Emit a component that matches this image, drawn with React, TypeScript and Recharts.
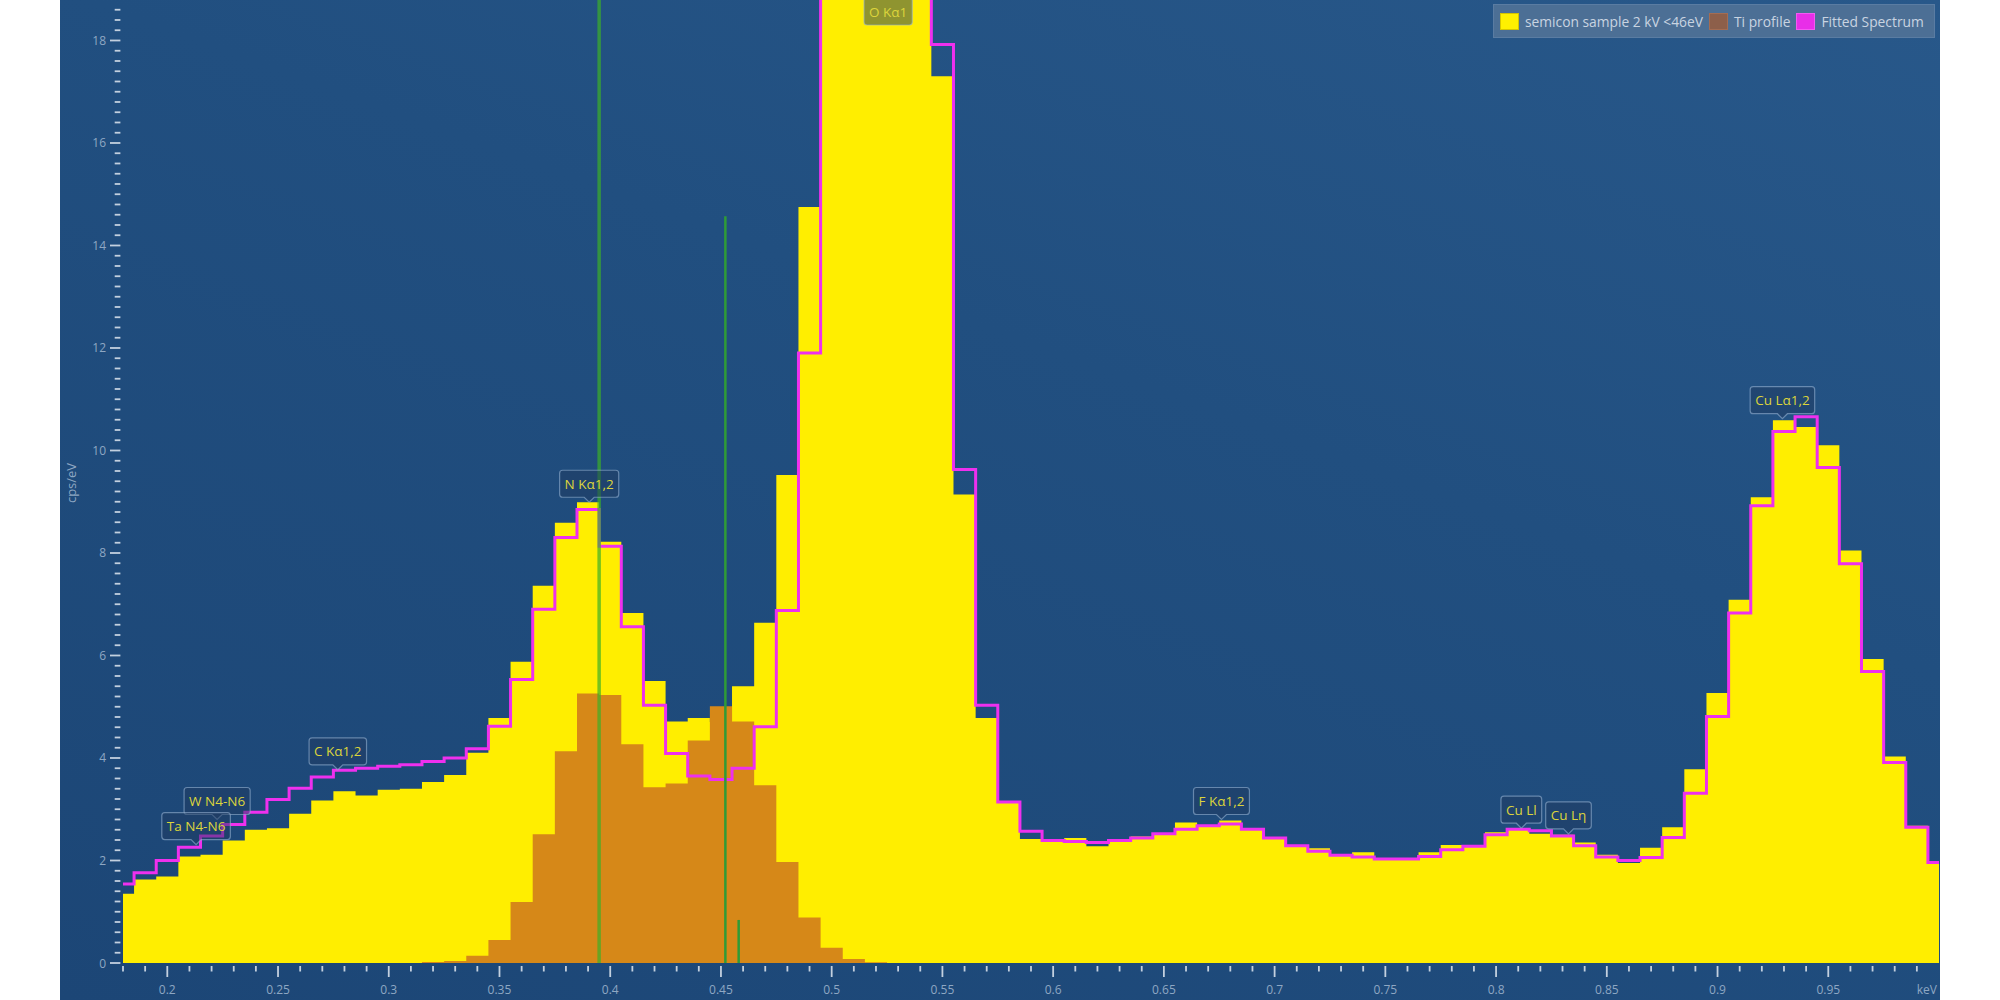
import {
  ComposedChart,
  Area,
  Line,
  XAxis,
  YAxis,
  ReferenceLine,
  ReferenceDot,
} from 'recharts';

// bin centres (keV), 10 eV bins
const energy = [
  0.18, 0.19,
  0.2, 0.21, 0.22, 0.23, 0.24, 0.25, 0.26, 0.27, 0.28, 0.29,
  0.3, 0.31, 0.32, 0.33, 0.34, 0.35, 0.36, 0.37, 0.38, 0.39,
  0.4, 0.41, 0.42, 0.43, 0.44, 0.45, 0.46, 0.47, 0.48, 0.49,
  0.5, 0.51, 0.52, 0.53, 0.54, 0.55, 0.56, 0.57, 0.58, 0.59,
  0.6, 0.61, 0.62, 0.63, 0.64, 0.65, 0.66, 0.67, 0.68, 0.69,
  0.7, 0.71, 0.72, 0.73, 0.74, 0.75, 0.76, 0.77, 0.78, 0.79,
  0.8, 0.81, 0.82, 0.83, 0.84, 0.85, 0.86, 0.87, 0.88, 0.89,
  0.9, 0.91, 0.92, 0.93, 0.94, 0.95, 0.96, 0.97, 0.98, 0.99,
  1.0,
];

// semicon sample 2 kV <46eV (cps/eV)
const sampleCps = [
  1.35, 1.63,
  1.69, 2.08, 2.11, 2.39, 2.6, 2.63, 2.91, 3.17, 3.35, 3.27,
  3.38, 3.4, 3.53, 3.67, 4.1, 4.78, 5.88, 7.36, 8.59, 8.99,
  8.22, 6.83, 5.5, 4.71, 4.78, 4.7, 5.4, 6.64, 9.52, 14.75,
  21.6, 27.9, 30.8, 29.5, 24.1, 17.3, 9.14, 4.78, 3.12, 2.42,
  2.4, 2.44, 2.28, 2.38, 2.47, 2.52, 2.74, 2.66, 2.78, 2.6,
  2.43, 2.3, 2.24, 2.09, 2.16, 2.02, 2.01, 2.16, 2.3, 2.28,
  2.55, 2.63, 2.52, 2.5, 2.35, 2.11, 1.95, 2.25, 2.65, 3.78,
  5.27, 7.09, 9.09, 10.59, 10.46, 10.1, 8.05, 5.93, 4.03, 2.68,
  1.98,
];

// Ti profile
const tiProfile = [
  0, 0,
  0, 0, 0, 0, 0, 0, 0, 0, 0, 0,
  0, 0, 0.02, 0.04, 0.14, 0.45, 1.19, 2.51, 4.13, 5.26,
  5.23, 4.27, 3.43, 3.5, 4.34, 5.01, 4.71, 3.47, 1.97, 0.89,
  0.3, 0.08, 0.015, 0, 0, 0, 0, 0, 0, 0,
  0, 0, 0, 0, 0, 0, 0, 0, 0, 0,
  0, 0, 0, 0, 0, 0, 0, 0, 0, 0,
  0, 0, 0, 0, 0, 0, 0, 0, 0, 0,
  0, 0, 0, 0, 0, 0, 0, 0, 0, 0,
  0,
];

// Fitted Spectrum
const fittedSpectrum = [
  1.54, 1.76,
  2.0, 2.26, 2.48, 2.7, 2.94, 3.19, 3.41, 3.63, 3.76, 3.8,
  3.84, 3.87, 3.93, 4.0, 4.18, 4.62, 5.53, 6.9, 8.3, 8.85,
  8.13, 6.56, 5.03, 4.09, 3.65, 3.58, 3.8, 4.61, 6.88, 11.9,
  21.0, 27.3, 31.1, 29.0, 23.6, 17.92, 9.63, 5.03, 3.14, 2.57,
  2.39, 2.37, 2.35, 2.39, 2.44, 2.52, 2.61, 2.68, 2.71, 2.61,
  2.44, 2.29, 2.18, 2.1, 2.07, 2.03, 2.03, 2.08, 2.21, 2.28,
  2.5, 2.61, 2.58, 2.48, 2.29, 2.07, 2.0, 2.06, 2.45, 3.31,
  4.81, 6.83, 8.92, 10.37, 10.66, 9.67, 7.79, 5.69, 3.91, 2.65,
  1.96,
];

const xMajorTicks = [0.2, 0.25, 0.3, 0.35, 0.4, 0.45, 0.5, 0.55, 0.6, 0.65, 0.7, 0.75, 0.8, 0.85, 0.9, 0.95];
const yMajorTicks = [0, 2, 4, 6, 8, 10, 12, 14, 16, 18];
const Y_MAX = 18.79;

// element line markers (keV, height in cps/eV)
const markerEnergy = [0.395, 0.452, 0.458];
const markerHeight = [Y_MAX, 14.57, 0.84];

// peak labels
const peakLabels = [
  { text: 'W N4-N6', energy: 0.2225, value: 2.8 },
  { text: 'Ta N4-N6', energy: 0.213, value: 2.31 },
  { text: 'C Kα1,2', energy: 0.277, value: 3.77 },
  { text: 'N Kα1,2', energy: 0.3905, value: 8.99 },
  { text: 'O Kα1', energy: 0.5255, value: Y_MAX },
  { text: 'F Kα1,2', energy: 0.676, value: 2.8 },
  { text: 'Cu Ll', energy: 0.8114, value: 2.63 },
  { text: 'Cu Lη', energy: 0.8327, value: 2.52 },
  { text: 'Cu Lα1,2', energy: 0.9293, value: 10.62 },
];

const legendItems = [
  { name: 'semicon sample 2 kV <46eV', color: '#fff000', border: '#d4c400' },
  { name: 'Ti profile', color: '#8d5f4a', border: '#a46c52' },
  { name: 'Fitted Spectrum', color: '#e82ee8', border: '#f35af3' },
];

const data = energy.map((e, i) => ({
  energy: e,
  sample: sampleCps[i],
  ti: tiProfile[i],
  fit: fittedSpectrum[i],
}));

const yTicks: number[] = [];
for (let i = 0; i <= 93; i++) yTicks.push(i / 5);
const xTicks = energy.filter((e) => e < 0.995);

const FONT = "'Segoe UI', 'Open Sans', 'Noto Sans', sans-serif";
const TICK_LINE = '#c3d0df';
const TICK_TEXT = '#8ea7c3';

let ctx: CanvasRenderingContext2D | null = null;
function textWidth(t: string, font: string) {
  if (!ctx && typeof document !== 'undefined') {
    ctx = document.createElement('canvas').getContext('2d');
  }
  if (ctx) {
    ctx.font = font;
    return ctx.measureText(t).width;
  }
  return t.length * 7;
}

const XTick = (props: any) => {
  const { x, y, payload } = props;
  const v = payload.value;
  const major = xMajorTicks.includes(v);
  return (
    <g>
      <line x1={x} x2={x} y1={y + 3} y2={y + (major ? 14 : 8.5)} stroke={TICK_LINE} strokeWidth={1.8} />
      {major && (
        <text x={x} y={y + 26} textAnchor="middle" dominantBaseline="central" fill={TICK_TEXT} fontSize={12} fontFamily={FONT}>
          {String(v)}
        </text>
      )}
    </g>
  );
};

const YTick = (props: any) => {
  const { x, y, payload } = props;
  const v = payload.value;
  const major = yMajorTicks.some((t) => Math.abs(t - v) < 1e-6);
  return (
    <g>
      <line x1={x - (major ? 13 : 8.3)} x2={x - 2.6} y1={y} y2={y} stroke={TICK_LINE} strokeWidth={1.8} />
      {major && (
        <text x={x - 17} y={y} textAnchor="end" dominantBaseline="central" fill={TICK_TEXT} fontSize={12} fontFamily={FONT}>
          {String(Math.round(v))}
        </text>
      )}
    </g>
  );
};

const Callout = ({ cx, cy, text, atTop }: { cx: number; cy: number; text: string; atTop: boolean }) => {
  const font = `13.5px ${FONT}`;
  const w = textWidth(text, font) + 10;
  const h = 27;
  const tip = 5;
  const tw = 5;
  const r = 3;
  const top = atTop ? cy - 2 : cy - tip - h;
  const bot = top + h;
  const x0 = cx - w / 2;
  const x1 = cx + w / 2;
  const d = atTop
    ? `M${x0 + r},${top} H${x1 - r} Q${x1},${top} ${x1},${top + r} V${bot - r} Q${x1},${bot} ${x1 - r},${bot} H${x0 + r} Q${x0},${bot} ${x0},${bot - r} V${top + r} Q${x0},${top} ${x0 + r},${top} Z`
    : `M${x0 + r},${top} H${x1 - r} Q${x1},${top} ${x1},${top + r} V${bot - r} Q${x1},${bot} ${x1 - r},${bot} H${cx + tw} L${cx},${cy} L${cx - tw},${bot} H${x0 + r} Q${x0},${bot} ${x0},${bot - r} V${top + r} Q${x0},${top} ${x0 + r},${top} Z`;
  return (
    <g>
      <path d={d} fill="rgba(32,58,95,0.5)" stroke="rgba(150,178,210,0.6)" strokeWidth={1.2} />
      <text x={cx} y={top + h / 2} textAnchor="middle" dominantBaseline="central" fill="#dcd43c" fontSize={13.5} fontFamily={FONT}>
        {text}
      </text>
    </g>
  );
};

export default function App() {
  return (
    <div style={{ position: 'absolute', left: 0, top: 0, width: 2000, height: 1000, background: '#fff', overflow: 'hidden' }}>
      <div
        style={{
          position: 'absolute',
          left: 60,
          top: 0,
          width: 1880,
          height: 1000,
          background: 'linear-gradient(200deg, #28588a 0%, #214f80 40%, #1c4676 100%)',
        }}
      />
      <div style={{ position: 'absolute', left: 60, top: 0 }}>
        <ComposedChart width={1880} height={1000} data={data} margin={{ top: 0, right: 1, bottom: 0, left: 0 }}>
          <XAxis
            dataKey="energy"
            type="number"
            domain={[0.18, 1.0]}
            ticks={xTicks}
            interval={0}
            tick={<XTick />}
            tickLine={false}
            axisLine={false}
            tickSize={0}
            tickMargin={0}
            height={37}
            allowDataOverflow
          />
          <YAxis
            type="number"
            domain={[0, Y_MAX]}
            ticks={yTicks}
            interval={0}
            tick={<YTick />}
            tickLine={false}
            axisLine={false}
            tickSize={0}
            tickMargin={0}
            width={63}
            allowDataOverflow
          />
          <Area type="step" dataKey="sample" fill="#ffee00" fillOpacity={1} stroke="none" isAnimationActive={false} />
          <Area type="step" dataKey="ti" fill="#d68818" fillOpacity={1} stroke="none" isAnimationActive={false} />
          <Line type="step" dataKey="fit" stroke="#ee30ee" strokeWidth={3} dot={false} activeDot={false} isAnimationActive={false} />
          {markerEnergy.map((e, i) => (
            <ReferenceLine
              key={e}
              segment={[{ x: e, y: 0 }, { x: e, y: markerHeight[i] }]}
              stroke={i === 0 ? 'rgba(60,175,40,0.7)' : '#2f9b37'}
              strokeWidth={i === 0 ? 3.5 : 2.5}
              ifOverflow="visible"
            />
          ))}
          {peakLabels.map((l) => (
            <ReferenceDot
              key={l.text}
              x={l.energy}
              y={l.value}
              r={0}
              ifOverflow="visible"
              shape={(p: any) => <Callout cx={p.cx} cy={p.cy} text={l.text} atTop={l.value >= Y_MAX} />}
            />
          ))}
        </ComposedChart>
      </div>
      <div
        style={{
          position: 'absolute',
          left: 71,
          top: 483,
          transform: 'translate(-50%, -50%) rotate(-90deg)',
          color: TICK_TEXT,
          fontSize: 13,
          fontFamily: FONT,
          whiteSpace: 'nowrap',
        }}
      >
        cps/eV
      </div>
      <div
        style={{
          position: 'absolute',
          right: 2000 - 1937,
          top: 989,
          transform: 'translateY(-50%)',
          color: TICK_TEXT,
          fontSize: 12,
          fontFamily: FONT,
        }}
      >
        keV
      </div>
      <div
        style={{
          position: 'absolute',
          left: 1493,
          top: 4,
          width: 442,
          height: 34,
          boxSizing: 'border-box',
          background: '#4c6f95',
          border: '1px solid #5a7ca2',
          display: 'flex',
          alignItems: 'center',
          paddingLeft: 6,
          fontFamily: FONT,
          fontSize: 13.8,
          color: '#c9d4e1',
          whiteSpace: 'nowrap',
        }}
      >
        {legendItems.map((it) => (
          <div key={it.name} style={{ display: 'flex', alignItems: 'center', marginRight: 6 }}>
            <div
              style={{
                width: 19,
                height: 17,
                boxSizing: 'border-box',
                background: it.color,
                border: `1px solid ${it.border}`,
                marginRight: 6,
              }}
            />
            <span>{it.name}</span>
          </div>
        ))}
      </div>
    </div>
  );
}
